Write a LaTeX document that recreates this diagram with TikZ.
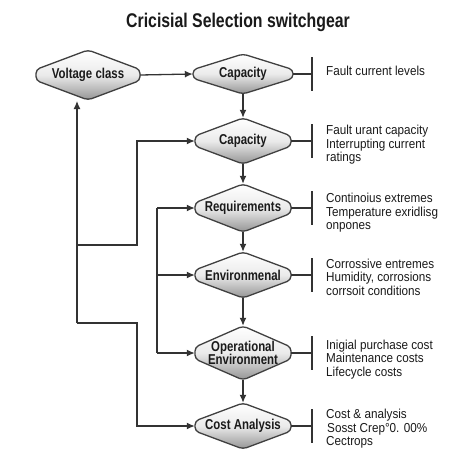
\documentclass[tikz,border=0pt]{standalone}
\usepackage{fontspec}
\setmainfont{Liberation Sans}
\newfontfamily\bn[FakeStretch=0.8]{Liberation Sans}
\newfontfamily\rn[FakeStretch=0.9]{Liberation Sans}
\usetikzlibrary{arrows.meta}
\definecolor{ln}{HTML}{333333}
\definecolor{bd}{HTML}{404040}
\definecolor{tx}{HTML}{1A1A1A}
\tikzset{
 hexshape/.style={draw=bd, line width=1.3pt, rounded corners=4pt, top color=white, bottom color=black!42, middle color=black!8},
 hextext/.style={inner sep=0pt, text=tx, font=\bn\bfseries\fontsize{14.3}{14}\selectfont, align=center},
 conn/.style={draw=ln, line width=1.3pt},
 arr/.style={conn, -{Latex[length=8pt,width=7pt]}},
 note/.style={anchor=west, inner sep=0pt, text=tx, font=\rn\fontsize{13}{13.5}\selectfont, align=left},
 titlestyle/.style={inner sep=0pt, text=tx, font=\bn\bfseries\fontsize{19.8}{20}\selectfont},
}
\newcommand\hexnode[6]{%
 \path[hexshape] (#2-#4,#3-0.22*#5) -- (#2,#3-#5) -- (#2+#4,#3-0.22*#5) -- (#2+#4,#3+0.22*#5) -- (#2,#3+#5) -- (#2-#4,#3+0.22*#5) -- cycle;
 \node[hextext, minimum width=2*#4, minimum height=2*#5] (#1) at (#2,#3) {#6};
}
\begin{document}
\begin{tikzpicture}[x=1pt,y=-1pt]
\useasboundingbox[fill=white] (0,0) rectangle (474,474);
\node[titlestyle] (title) at (238,22) {Cricisial Selection switchgear};
\hexnode{vc}{88}{75}{52}{25}{Voltage class}
\hexnode{cap1}{243}{74}{50}{20}{Capacity}
\hexnode{cap2}{243}{141}{48}{23}{Capacity}
\hexnode{req}{243}{208}{48}{24}{Requirements}
\hexnode{env}{243}{275}{48}{23}{Environmenal}
\hexnode{ope}{243}{353}{48}{27}{Operational\\[-1pt]Environment}
\hexnode{cost}{243}{426}{48}{23}{Cost Analysis}
% main flow
\draw[arr] (vc.east) -- (cap1.west);
\draw[arr] (cap1.south) -- (cap2.north);
\draw[arr] (cap2.south) -- (req.north);
\draw[arr] (req.south) -- (env.north);
\draw[arr] (env.south) -- (ope.north);
\draw[arr] (ope.south) -- (cost.north);
% left loops
\coordinate (s1) at (77,323);
\coordinate (s2) at (77,245);
\coordinate (vcin) at (77,101);
\coordinate (k1) at (137,245);
\coordinate (k2) at (137,323);
\draw[arr] (s1) -- (vcin);
\draw[arr] (s2) -- (k1) |- (cap2.west);
\draw[arr] (s1) -- (k2) |- (cost.west);
\coordinate (m0) at (157,208);
\coordinate (m1) at (157,275);
\coordinate (m2) at (157,353);
\draw[conn] (m0) -- (m2);
\draw[arr] (m0) -- (req.west);
\draw[arr] (m1) -- (env.west);
\draw[arr] (m2) -- (ope.west);
% notes
\foreach \n/\y in {cap1/74,cap2/141,req/208,env/275,ope/353,cost/426}{
  \coordinate (b-\n) at (312,\y);
  \draw[conn] (\n.east) -- (b-\n);
  \draw[conn] (b-\n) ++(0,-17) -- ++(0,34);
}
\node[note] (t1) at (326,71) {Fault current levels};
\node[note] (t2) at (326,145) {Fault urant capacity\\Interrupting current\\ratings};
\node[note] (t3) at (326,213) {Continoius extremes\\Temperature exridlisg\\onpones};
\node[note] (t4) at (326,277) {Corrossive entremes\\Humidity, corrosions\\corrsoit conditions};
\node[note] (t5) at (326,359.5) {Inigial purchase cost\\Maintenance costs\\Lifecycle costs};
\node[note] (t6) at (326,429) {Cost \& analysis\\\hspace{1pt}Sosst Crep°0. 00\%\\Cectrops};
\end{tikzpicture}
\end{document}
